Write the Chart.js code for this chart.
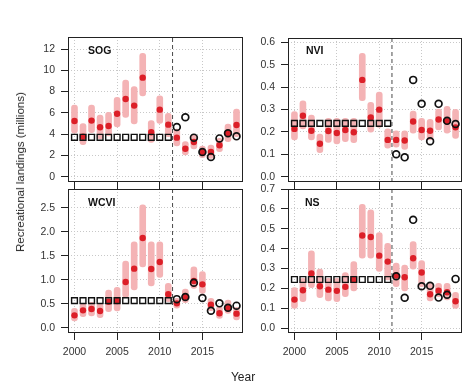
<!DOCTYPE html>
<html><head><meta charset="utf-8">
<script src="https://cdn.jsdelivr.net/npm/chart.js@4.4.0/dist/chart.umd.min.js"></script>
<style>
html,body{margin:0;padding:0;background:#fff;}
#wrap{position:relative;width:474px;height:390px;overflow:hidden;font-family:"Liberation Sans",Arial,sans-serif;color:#222;}
canvas{position:absolute;}
.lab{position:absolute;font-weight:bold;font-size:10.5px;line-height:12px;color:#111;}
.ttl{position:absolute;white-space:nowrap;color:#222;}
</style></head><body>
<div id="wrap">
<canvas id="c0"></canvas>
<canvas id="c1"></canvas>
<canvas id="c2"></canvas>
<canvas id="c3"></canvas>
<div class="lab" style="left:88px;top:44px">SOG</div>
<div class="lab" style="left:306px;top:44px">NVI</div>
<div class="lab" style="left:88px;top:196px">WCVI</div>
<div class="lab" style="left:305px;top:196px">NS</div>
<div class="ttl" style="left:20px;top:172px;transform:translate(-50%,-50%) rotate(-90deg);font-size:11.5px">Recreational landings (millions)</div>
<div class="ttl" style="left:243px;top:377px;transform:translate(-50%,-50%);font-size:12px">Year</div>
</div>
<script>
// ---- data ----
const years = [2000,2001,2002,2003,2004,2005,2006,2007,2008,2009,2010,2011,2012,2013,2014,2015,2016,2017,2018,2019];
const yearsEarly = [2000,2001,2002,2003,2004,2005,2006,2007,2008,2009,2010,2011];
const yearsLate = [2012,2013,2014,2015,2016,2017,2018,2019];
const yearTicks = [2000,2005,2010,2015];

const sogEst = [5.23,3.76,5.27,4.64,4.76,5.92,7.30,6.68,9.31,4.17,6.30,4.89,3.67,2.63,3.26,2.32,2.32,2.95,4.08,4.86];
const sogLo  = [4.08,3.00,4.14,3.54,3.82,4.67,5.58,4.95,7.60,3.23,5.00,3.76,2.88,2.04,2.60,1.79,1.72,2.35,3.29,3.76];
const sogHi  = [6.74,5.00,6.74,5.80,6.05,7.46,9.09,8.46,11.60,5.27,7.59,5.96,4.48,3.29,3.92,2.88,2.98,3.60,4.95,6.36];
const sogSq  = [3.70,3.70,3.70,3.70,3.70,3.70,3.70,3.70,3.70,3.70,3.70,3.70];
const sogCi  = [4.67,5.58,3.67,2.32,1.85,3.60,4.08,3.79];
const sogTicks = [0,2,4,6,8,10,12];

const nviEst = [0.213,0.272,0.205,0.147,0.204,0.195,0.208,0.198,0.432,0.264,0.299,0.164,0.164,0.161,0.246,0.208,0.205,0.255,0.247,0.220];
const nviLo  = [0.164,0.213,0.164,0.107,0.153,0.146,0.156,0.152,0.339,0.198,0.220,0.127,0.131,0.122,0.194,0.164,0.164,0.208,0.194,0.171];
const nviHi  = [0.290,0.339,0.275,0.190,0.260,0.260,0.260,0.260,0.551,0.332,0.377,0.213,0.205,0.205,0.293,0.260,0.256,0.302,0.314,0.300];
const nviSq  = [0.238,0.238,0.238,0.238,0.238,0.238,0.238,0.238,0.238,0.238,0.238,0.238];
const nviCi  = [0.100,0.086,0.432,0.325,0.158,0.325,0.249,0.235];
const nviTicks = [0,0.1,0.2,0.3,0.4,0.5,0.6];

const wcviEst = [0.263,0.367,0.395,0.353,0.547,0.561,0.956,1.233,1.870,1.226,1.371,0.700,0.512,0.651,0.976,0.907,0.485,0.305,0.422,0.298];
const wcviLo  = [0.145,0.235,0.250,0.215,0.340,0.353,0.637,0.790,1.270,0.873,1.050,0.547,0.410,0.526,0.824,0.720,0.360,0.200,0.305,0.166];
const wcviHi  = [0.410,0.510,0.533,0.510,0.790,0.845,1.390,1.790,2.560,1.790,1.790,0.930,0.616,0.810,1.270,1.170,0.616,0.443,0.580,0.430];
const wcviSq  = [0.568,0.568,0.568,0.568,0.568,0.568,0.568,0.568,0.568,0.568,0.568,0.568];
const wcviCi  = [0.600,0.644,0.940,0.623,0.360,0.512,0.422,0.464];
const wcviTicks = [0,0.5,1.0,1.5,2.0,2.5];

const nsEst = [0.144,0.191,0.275,0.211,0.194,0.188,0.208,0.245,0.466,0.459,0.365,0.335,0.265,0.256,0.352,0.280,0.171,0.189,0.181,0.136];
const nsLo  = [0.100,0.134,0.204,0.154,0.137,0.134,0.159,0.188,0.352,0.352,0.285,0.243,0.209,0.188,0.297,0.209,0.137,0.159,0.142,0.100];
const nsHi  = [0.204,0.251,0.389,0.298,0.251,0.251,0.280,0.335,0.623,0.595,0.481,0.427,0.327,0.318,0.436,0.340,0.226,0.226,0.226,0.181];
const nsSq  = [0.245,0.245,0.245,0.245,0.245,0.245,0.245,0.245,0.245,0.245,0.245,0.245];
const nsCi  = [0.261,0.153,0.545,0.211,0.213,0.154,0.168,0.248];
const nsTicks = [0,0.1,0.2,0.3,0.4,0.5,0.6,0.7];

const breakYear = 2011.5;

// ---- layout / style ----
const panels = [
  {id:'c0', L:68,  R:243, T:37,  B:182, ymin:-0.50, ymax:13.13, ticks:sogTicks,  dec:0, est:sogEst,  lo:sogLo,  hi:sogHi,  sq:sogSq,  ci:sogCi,  showX:false},
  {id:'c1', L:288, R:462, T:38,  B:182, ymin:-0.024,ymax:0.619, ticks:nviTicks,  dec:1, est:nviEst,  lo:nviLo,  hi:nviHi,  sq:nviSq,  ci:nviCi,  showX:false},
  {id:'c2', L:68,  R:243, T:189, B:333, ymin:-0.104,ymax:2.889, ticks:wcviTicks, dec:1, est:wcviEst, lo:wcviLo, hi:wcviHi, sq:wcviSq, ci:wcviCi, showX:true},
  {id:'c3', L:288, R:462, T:189, B:333, ymin:-0.024,ymax:0.700, ticks:nsTicks,   dec:1, est:nsEst,   lo:nsLo,   hi:nsHi,   sq:nsSq,   ci:nsCi,   showX:true}
];

const YW = 60, PT = 15, PR = 6;
const font = {family:'"Liberation Sans", Arial, sans-serif', size:10.5};

const framePlugin = {
  id:'frame',
  afterDraw(chart){
    const {ctx, chartArea:a} = chart;
    ctx.save();
    ctx.strokeStyle = '#222';
    ctx.lineWidth = 1;
    ctx.setLineDash([]);
    const l = Math.round(a.left)+0.5, t = Math.round(a.top)+0.5;
    const r = Math.round(a.right)-0.5, b = Math.round(a.bottom)-0.5;
    ctx.strokeRect(l, t, r-l, b-t);
    ctx.restore();
  }
};

panels.forEach(p => {
  const cv = document.getElementById(p.id);
  const bottomSpace = p.showX ? 30 : 20;
  const w = (p.R - p.L) + YW + PR;
  const h = PT + (p.B - p.T) + bottomSpace;
  cv.width = w; cv.height = h;
  cv.style.left = (p.L - YW) + 'px';
  cv.style.top = (p.T - PT) + 'px';
  cv.style.width = w + 'px'; cv.style.height = h + 'px';

  new Chart(cv, {
    type: 'scatter',
    data: {
      datasets: [
        { type:'line', data:[{x:breakYear,y:p.ymin},{x:breakYear,y:p.ymax}],
          borderColor:'#4a4a4a', borderWidth:1, borderDash:[4,3], pointRadius:0, fill:false, order:6 },
        { type:'bar', data: years.map((yr,i)=>({x:yr, y:[p.lo[i], p.hi[i]]})),
          backgroundColor:'#f4b3b5', borderWidth:0, barThickness:6, borderRadius:3,
          borderSkipped:false, order:5 },
        { type:'scatter', data: years.map((yr,i)=>({x:yr, y:p.est[i]})),
          pointRadius:3.2, pointBackgroundColor:'#dc1f28', pointBorderWidth:0, borderWidth:0, order:4 },
        { type:'scatter', data: yearsEarly.map((yr,i)=>({x:yr, y:p.sq[i]})),
          pointStyle:'rect', pointRadius:4.1, pointBackgroundColor:'rgba(0,0,0,0)',
          pointBorderColor:'#111', pointBorderWidth:1.4, order:3 },
        { type:'scatter', data: yearsLate.map((yr,i)=>({x:yr, y:p.ci[i]})),
          pointStyle:'circle', pointRadius:3.4, pointBackgroundColor:'rgba(0,0,0,0)',
          pointBorderColor:'#111', pointBorderWidth:1.7, order:2 }
      ]
    },
    options: {
      responsive:false, animation:false, events:[],
      layout:{padding:{left:0, top:PT, right:PR, bottom:0}},
      plugins:{legend:{display:false}, tooltip:{enabled:false}},
      scales:{
        x:{
          type:'linear', min:1999.24, max:2019.76, offset:false,
          afterBuildTicks:(s)=>{ s.ticks = yearTicks.map(v=>({value:v})); },
          afterFit:(s)=>{ s.height = bottomSpace; },
          ticks:{display:p.showX, padding:6, color:'#333', font:font, maxRotation:0, autoSkip:false,
                 callback:(v)=>String(v)},
          grid:{offset:false, color:'#c8c8c8', lineWidth:1, drawTicks:true, tickLength:7,
                tickColor:'#222', tickWidth:1, tickBorderDash:[]},
          border:{display:false, dash:[1,2]}
        },
        y:{
          type:'linear', min:p.ymin, max:p.ymax,
          afterBuildTicks:(s)=>{ s.ticks = p.ticks.map(v=>({value:v})); },
          afterFit:(s)=>{ s.width = YW; },
          ticks:{padding:6, color:'#333', font:font, autoSkip:false,
                 callback:(v)=>Number(v).toFixed(p.dec)},
          grid:{color:'#c8c8c8', lineWidth:1, drawTicks:true, tickLength:7,
                tickColor:'#222', tickWidth:1, tickBorderDash:[]},
          border:{display:false, dash:[1,2]}
        }
      }
    },
    plugins:[framePlugin]
  });
});
</script>
</body></html>
